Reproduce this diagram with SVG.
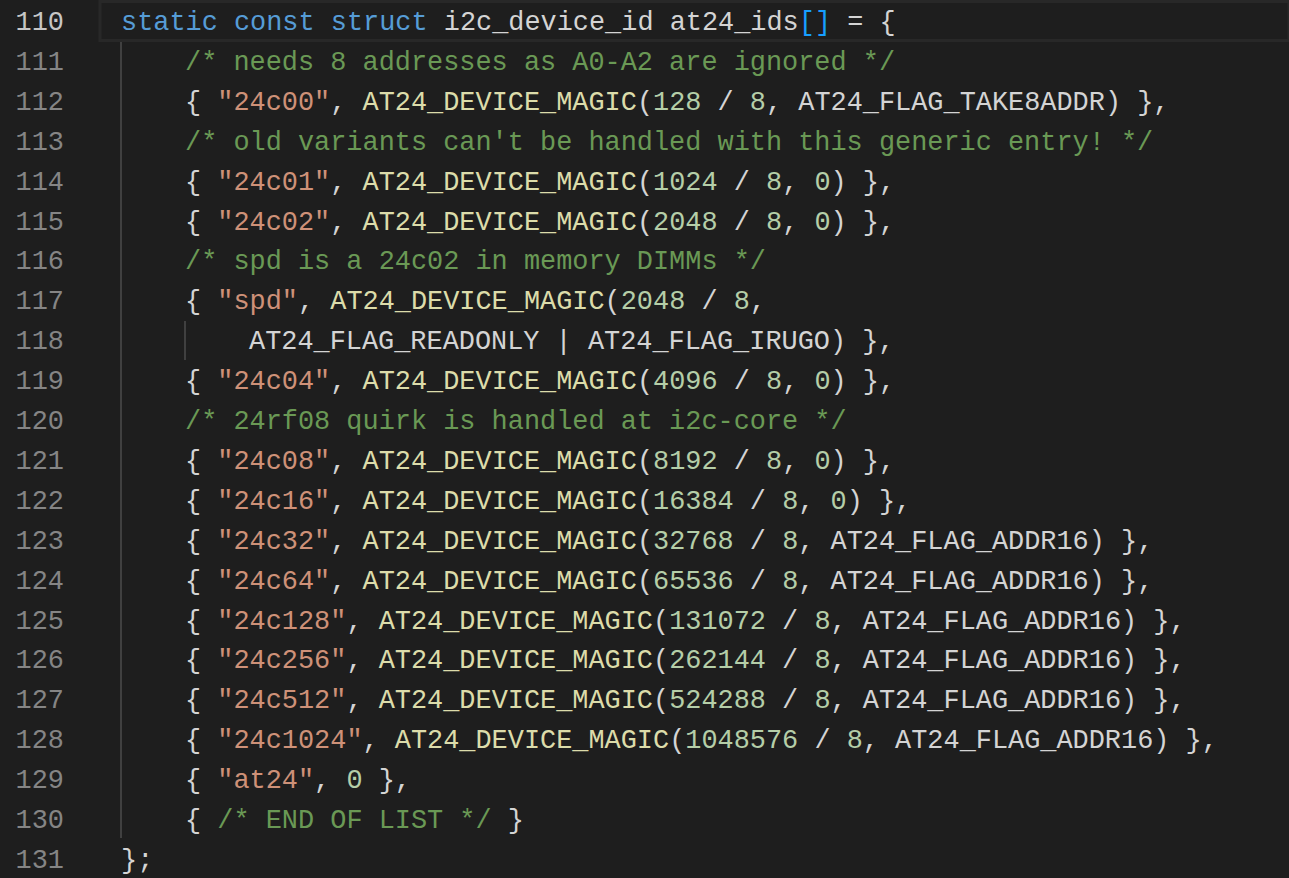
<svg xmlns="http://www.w3.org/2000/svg" width="1289" height="878" viewBox="0 0 1289 878">
<style>
text{font-family:"Liberation Mono","DejaVu Sans Mono",monospace;font-size:26.9px;white-space:pre}
.ln{fill:#858585;text-anchor:end}
.cur{fill:#c6c6c6}
.k{fill:#569cd6}
.p{fill:#d4d4d4}
.s{fill:#ce9178}
.c{fill:#6a9955}
.f{fill:#dcdcaa}
.n{fill:#b5cea8}
.b{fill:#179fff}
</style>
<rect width="1289" height="878" fill="#1e1e1e"/>
<rect x="100" y="1.5" width="1189" height="39" fill="none" stroke="#282828" stroke-width="3"/>
<g id="guides" stroke="#404040" stroke-width="2">
<line x1="121" y1="42" x2="121" y2="838"/>
<line x1="185" y1="321" x2="185" y2="360"/>
</g>
<g id="linenums" transform="translate(0,-1)">
<text class="ln cur" x="64" y="31">110</text>
<text class="ln" x="64" y="70.9">111</text>
<text class="ln" x="64" y="110.8">112</text>
<text class="ln" x="64" y="150.7">113</text>
<text class="ln" x="64" y="190.6">114</text>
<text class="ln" x="64" y="230.5">115</text>
<text class="ln" x="64" y="270.4">116</text>
<text class="ln" x="64" y="310.3">117</text>
<text class="ln" x="64" y="350.2">118</text>
<text class="ln" x="64" y="390.1">119</text>
<text class="ln" x="64" y="430">120</text>
<text class="ln" x="64" y="469.9">121</text>
<text class="ln" x="64" y="509.8">122</text>
<text class="ln" x="64" y="549.7">123</text>
<text class="ln" x="64" y="589.6">124</text>
<text class="ln" x="64" y="629.5">125</text>
<text class="ln" x="64" y="669.4">126</text>
<text class="ln" x="64" y="709.3">127</text>
<text class="ln" x="64" y="749.2">128</text>
<text class="ln" x="64" y="789.1">129</text>
<text class="ln" x="64" y="829">130</text>
<text class="ln" x="64" y="868.9">131</text>
</g>
<g id="code" transform="translate(0,-1)">
<text x="121" y="31"><tspan class="k">static const struct</tspan><tspan class="p"> i2c_device_id at24_ids</tspan><tspan class="b">[]</tspan><tspan class="p"> = {</tspan></text>
<text x="185" y="70.9" class="c">/* needs 8 addresses as A0-A2 are ignored */</text>
<text x="185" y="110.8"><tspan class="p">{ </tspan><tspan class="s">"24c00"</tspan><tspan class="p">, </tspan><tspan class="f">AT24_DEVICE_MAGIC</tspan><tspan class="p">(</tspan><tspan class="n">128</tspan><tspan class="p"> / </tspan><tspan class="n">8</tspan><tspan class="p">, AT24_FLAG_TAKE8ADDR) },</tspan></text>
<text x="185" y="150.7" class="c">/* old variants can't be handled with this generic entry! */</text>
<text x="185" y="190.6"><tspan class="p">{ </tspan><tspan class="s">"24c01"</tspan><tspan class="p">, </tspan><tspan class="f">AT24_DEVICE_MAGIC</tspan><tspan class="p">(</tspan><tspan class="n">1024</tspan><tspan class="p"> / </tspan><tspan class="n">8</tspan><tspan class="p">, </tspan><tspan class="n">0</tspan><tspan class="p">) },</tspan></text>
<text x="185" y="230.5"><tspan class="p">{ </tspan><tspan class="s">"24c02"</tspan><tspan class="p">, </tspan><tspan class="f">AT24_DEVICE_MAGIC</tspan><tspan class="p">(</tspan><tspan class="n">2048</tspan><tspan class="p"> / </tspan><tspan class="n">8</tspan><tspan class="p">, </tspan><tspan class="n">0</tspan><tspan class="p">) },</tspan></text>
<text x="185" y="270.4" class="c">/* spd is a 24c02 in memory DIMMs */</text>
<text x="185" y="310.3"><tspan class="p">{ </tspan><tspan class="s">"spd"</tspan><tspan class="p">, </tspan><tspan class="f">AT24_DEVICE_MAGIC</tspan><tspan class="p">(</tspan><tspan class="n">2048</tspan><tspan class="p"> / </tspan><tspan class="n">8</tspan><tspan class="p">,</tspan></text>
<text x="249" y="350.2" class="p">AT24_FLAG_READONLY | AT24_FLAG_IRUGO) },</text>
<text x="185" y="390.1"><tspan class="p">{ </tspan><tspan class="s">"24c04"</tspan><tspan class="p">, </tspan><tspan class="f">AT24_DEVICE_MAGIC</tspan><tspan class="p">(</tspan><tspan class="n">4096</tspan><tspan class="p"> / </tspan><tspan class="n">8</tspan><tspan class="p">, </tspan><tspan class="n">0</tspan><tspan class="p">) },</tspan></text>
<text x="185" y="430" class="c">/* 24rf08 quirk is handled at i2c-core */</text>
<text x="185" y="469.9"><tspan class="p">{ </tspan><tspan class="s">"24c08"</tspan><tspan class="p">, </tspan><tspan class="f">AT24_DEVICE_MAGIC</tspan><tspan class="p">(</tspan><tspan class="n">8192</tspan><tspan class="p"> / </tspan><tspan class="n">8</tspan><tspan class="p">, </tspan><tspan class="n">0</tspan><tspan class="p">) },</tspan></text>
<text x="185" y="509.8"><tspan class="p">{ </tspan><tspan class="s">"24c16"</tspan><tspan class="p">, </tspan><tspan class="f">AT24_DEVICE_MAGIC</tspan><tspan class="p">(</tspan><tspan class="n">16384</tspan><tspan class="p"> / </tspan><tspan class="n">8</tspan><tspan class="p">, </tspan><tspan class="n">0</tspan><tspan class="p">) },</tspan></text>
<text x="185" y="549.7"><tspan class="p">{ </tspan><tspan class="s">"24c32"</tspan><tspan class="p">, </tspan><tspan class="f">AT24_DEVICE_MAGIC</tspan><tspan class="p">(</tspan><tspan class="n">32768</tspan><tspan class="p"> / </tspan><tspan class="n">8</tspan><tspan class="p">, AT24_FLAG_ADDR16) },</tspan></text>
<text x="185" y="589.6"><tspan class="p">{ </tspan><tspan class="s">"24c64"</tspan><tspan class="p">, </tspan><tspan class="f">AT24_DEVICE_MAGIC</tspan><tspan class="p">(</tspan><tspan class="n">65536</tspan><tspan class="p"> / </tspan><tspan class="n">8</tspan><tspan class="p">, AT24_FLAG_ADDR16) },</tspan></text>
<text x="185" y="629.5"><tspan class="p">{ </tspan><tspan class="s">"24c128"</tspan><tspan class="p">, </tspan><tspan class="f">AT24_DEVICE_MAGIC</tspan><tspan class="p">(</tspan><tspan class="n">131072</tspan><tspan class="p"> / </tspan><tspan class="n">8</tspan><tspan class="p">, AT24_FLAG_ADDR16) },</tspan></text>
<text x="185" y="669.4"><tspan class="p">{ </tspan><tspan class="s">"24c256"</tspan><tspan class="p">, </tspan><tspan class="f">AT24_DEVICE_MAGIC</tspan><tspan class="p">(</tspan><tspan class="n">262144</tspan><tspan class="p"> / </tspan><tspan class="n">8</tspan><tspan class="p">, AT24_FLAG_ADDR16) },</tspan></text>
<text x="185" y="709.3"><tspan class="p">{ </tspan><tspan class="s">"24c512"</tspan><tspan class="p">, </tspan><tspan class="f">AT24_DEVICE_MAGIC</tspan><tspan class="p">(</tspan><tspan class="n">524288</tspan><tspan class="p"> / </tspan><tspan class="n">8</tspan><tspan class="p">, AT24_FLAG_ADDR16) },</tspan></text>
<text x="185" y="749.2"><tspan class="p">{ </tspan><tspan class="s">"24c1024"</tspan><tspan class="p">, </tspan><tspan class="f">AT24_DEVICE_MAGIC</tspan><tspan class="p">(</tspan><tspan class="n">1048576</tspan><tspan class="p"> / </tspan><tspan class="n">8</tspan><tspan class="p">, AT24_FLAG_ADDR16) },</tspan></text>
<text x="185" y="789.1"><tspan class="p">{ </tspan><tspan class="s">"at24"</tspan><tspan class="p">, </tspan><tspan class="n">0</tspan><tspan class="p"> },</tspan></text>
<text x="185" y="829"><tspan class="p">{ </tspan><tspan class="c">/* END OF LIST */</tspan><tspan class="p"> }</tspan></text>
<text x="121" y="868.9" class="p">};</text>
</g>
</svg>
